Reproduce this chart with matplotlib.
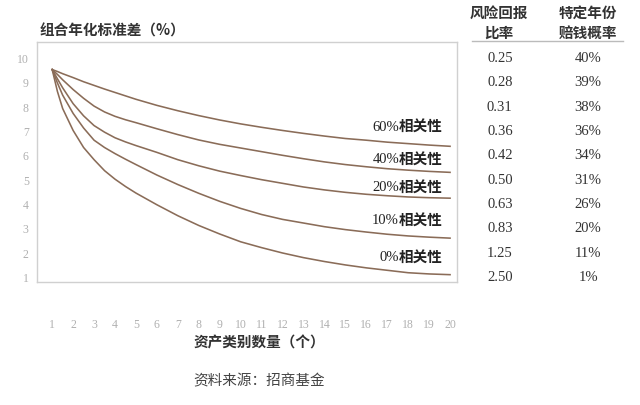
import matplotlib.pyplot as plt
from matplotlib.transforms import blended_transform_factory

# number of asset classes (extra readings near the start where the curves bend)
n_assets = [1, 1.25, 1.5, 2, 2.5, 3, 3.5, 4, 4.5, 5, 6, 7, 8, 9, 10,
            11, 12, 13, 14, 15, 16, 17, 18, 19, 20]
x_ticks = list(range(1, 21))

# portfolio annualised std (%), one list per correlation
std_0 = [9.5, 8.6, 7.9, 7.0, 6.3, 5.8, 5.35, 5.0, 4.7, 4.43, 3.95, 3.5, 3.1, 2.75, 2.43,
         2.19, 1.97, 1.78, 1.62, 1.48, 1.36, 1.26, 1.16, 1.11, 1.08]
std_10 = [9.5, 8.95, 8.45, 7.7, 7.1, 6.6, 6.3, 6.05, 5.82, 5.6, 5.17, 4.78, 4.42, 4.09, 3.8,
          3.55, 3.35, 3.2, 3.05, 2.93, 2.83, 2.74, 2.67, 2.62, 2.58]
std_20 = [9.5, 9.12, 8.75, 8.1, 7.6, 7.2, 6.93, 6.7, 6.53, 6.38, 6.1, 5.8, 5.55, 5.33, 5.15,
          4.98, 4.83, 4.68, 4.56, 4.46, 4.38, 4.32, 4.27, 4.24, 4.22]
std_40 = [9.5, 9.3, 9.08, 8.68, 8.32, 8.0, 7.76, 7.58, 7.44, 7.32, 7.07, 6.83, 6.61, 6.43, 6.28,
          6.13, 5.98, 5.84, 5.71, 5.6, 5.51, 5.43, 5.37, 5.32, 5.28]
std_60 = [9.5, 9.42, 9.33, 9.17, 9.0, 8.85, 8.7, 8.56, 8.42, 8.28, 8.03, 7.81, 7.61, 7.43, 7.27,
          7.13, 7.0, 6.88, 6.77, 6.67, 6.6, 6.52, 6.46, 6.4, 6.35]

series = [std_60, std_40, std_20, std_10, std_0]
curve_pct = ["60%", "40%", "20%", "10%", "0%"]
label_y = [7.18, 5.83, 4.7, 3.33, 1.82]

# side table
y_ticks = [10, 9, 8, 7, 6, 5, 4, 3, 2, 1]
risk_return = ["0.25", "0.28", "0.31", "0.36", "0.42", "0.50", "0.63", "0.83", "1.25", "2.50"]
loss_prob = ["40%", "39%", "38%", "36%", "34%", "31%", "26%", "20%", "11%", "1%"]

cjk = ["Noto Sans CJK SC", "DejaVu Sans"]
serif = "Liberation Serif"
line_color = "#8a6c58"

fig = plt.figure(figsize=(6.4, 4.06), dpi=100)
ax = fig.add_axes([0.058, 0.303, 0.656, 0.591])

for vals in series:
    ax.plot(n_assets, vals, color=line_color, linewidth=1.15)

# curve labels: serif percentage followed by bold CJK word
for pct, yv in zip(curve_pct, label_y):
    word = ax.text(19.66, yv, "相关性", ha="right", va="center", fontsize=10.5,
                   family=cjk, fontweight="bold", color="#222222")
    ax.annotate(pct, xy=(0, 0.5), xycoords=word, ha="right", va="center",
                fontsize=10.5, family=serif, color="#222222")

ax.set_xlim(0.28, 20.33)
ax.set_ylim(0.78, 10.63)
ax.set_xticks(x_ticks)
ax.set_yticks(y_ticks)
ax.tick_params(length=0, labelsize=8.5, labelcolor="#b0b0b0")
ax.tick_params(axis="x", pad=26)
ax.tick_params(axis="y", pad=6)
for lab in ax.get_xticklabels() + ax.get_yticklabels():
    lab.set_family(serif)
for sp in ax.spines.values():
    sp.set_color("#d0d0d0")
    sp.set_linewidth(1.0)

fig.text(0.062, 0.925, "组合年化标准差（%）", family=cjk, fontweight="bold",
         fontsize=10.5, color="#333333", ha="left", va="center")
fig.text(0.405, 0.157, "资产类别数量（个）", family=cjk, fontweight="bold",
         fontsize=10.5, color="#333333", ha="center", va="center")
fig.text(0.405, 0.062, "资料来源：招商基金", family=cjk,
         fontsize=10.5, color="#444444", ha="center", va="center")

# table header
fig.text(0.779, 0.968, "风险回报", family=cjk, fontweight="bold", fontsize=10.5,
         color="#333333", ha="center", va="center")
fig.text(0.779, 0.92, "比率", family=cjk, fontweight="bold", fontsize=10.5,
         color="#333333", ha="center", va="center")
fig.text(0.918, 0.968, "特定年份", family=cjk, fontweight="bold", fontsize=10.5,
         color="#333333", ha="center", va="center")
fig.text(0.918, 0.92, "赔钱概率", family=cjk, fontweight="bold", fontsize=10.5,
         color="#333333", ha="center", va="center")
fig.add_artist(plt.Line2D([0.737, 0.973], [0.897, 0.897], color="#bbbbbb",
                          linewidth=1.0, transform=fig.transFigure))

tr = blended_transform_factory(fig.transFigure, ax.transData)
for yv, rr, lp in zip(y_ticks, risk_return, loss_prob):
    fig.text(0.781, yv, rr, transform=tr, family=serif,
             fontsize=10.5, color="#333333", ha="center", va="center")
    fig.text(0.919, yv, lp, transform=tr, family=serif,
             fontsize=10.5, color="#333333", ha="center", va="center")

fig.savefig("out.png", dpi=100, facecolor="white")
